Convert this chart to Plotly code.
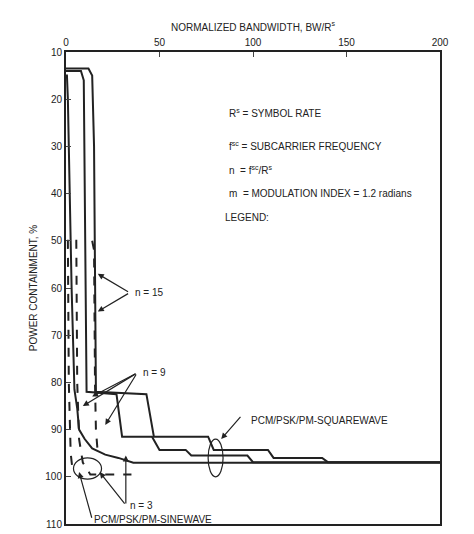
import plotly.graph_objects as go

# square-wave curves (solid)
sq15_x = [0, 12, 14, 15, 16, 43, 47, 76, 79, 108, 111, 137, 140, 200]
sq15_y = [13.5, 13.5, 15, 30, 82, 82.5, 91.5, 91.5, 94.3, 94.3, 96, 96, 96.9, 96.9]
sq9_x = [0, 8, 9.5, 10, 11, 27, 30, 46, 50, 64, 67, 97, 100, 200]
sq9_y = [14, 14, 16, 40, 82, 82.5, 91.5, 91.5, 94.3, 94.3, 95.5, 95.5, 96.9, 96.9]
sq3_x = [0, 0.5, 1, 3, 4.5, 6, 7, 10, 14, 21, 28, 36, 200]
sq3_y = [15, 15, 20, 60, 81.5, 85.5, 90, 92, 94, 95.3, 96, 97, 97]
# sine-wave curves (dashed)
sn3_x = [0.5, 1, 1.5, 2.5, 3.5]
sn3_y = [50, 50, 80, 95, 98.5]
sn9_x = [5, 5.5, 6, 7, 9, 13, 35]
sn9_y = [50, 50, 80, 92, 97, 99.5, 99.5]
sn15_x = [14, 15, 15.5, 16, 17]
sn15_y = [50, 52, 80, 90, 95]

fig = go.Figure()
for xs, ys in [(sq15_x, sq15_y), (sq9_x, sq9_y), (sq3_x, sq3_y)]:
    fig.add_trace(go.Scatter(x=xs, y=ys, mode="lines", line=dict(color="#222", width=2)))
for xs, ys in [(sn3_x, sn3_y), (sn9_x, sn9_y), (sn15_x, sn15_y)]:
    fig.add_trace(go.Scatter(x=xs, y=ys, mode="lines", line=dict(color="#222", width=2, dash="dash")))

f = dict(family="Liberation Sans", size=10, color="#222")
ann = []
def t(x, y, s, **k):
    ann.append(dict(x=x, y=y, text=s, showarrow=False, font=f, xanchor="left", **k))
t(86, 23, "R<sup>s</sup> = SYMBOL RATE")
t(86, 30, "f<sup>sc</sup> = SUBCARRIER FREQUENCY")
t(86, 35, "n  = f<sup>sc</sup>/R<sup>s</sup>")
t(86, 40, "m  = MODULATION INDEX = 1.2 radians")
t(84, 45, "LEGEND:")
t(36, 61, "n = 15")
t(40, 78, "n = 9")
t(33, 106, "n = 3")
t(14, 109, "PCM/PSK/PM-SINEWAVE")
t(98, 88, "PCM/PSK/PM-SQUAREWAVE")
def a(x, y, ax, ay):
    ann.append(dict(x=x, y=y, ax=ax, ay=ay, xref="x", yref="y", axref="x", ayref="y",
                    showarrow=True, arrowhead=2, arrowwidth=1.2, arrowcolor="#222", text=""))
a(17, 57, 34, 61); a(17, 65, 34, 61)
a(14, 83, 38, 78); a(21, 89, 38, 78); a(9, 85, 38, 78)
a(18, 99, 32, 106); a(32, 95.5, 32, 106)
a(7, 99, 14, 109)
a(83, 92, 94, 87)
fig.update_layout(annotations=ann,
    shapes=[dict(type="circle", xref="x", yref="y", x0=4, x1=19, y0=96, y1=100.5, line=dict(color="#222", width=1.2)),
            dict(type="circle", xref="x", yref="y", x0=76, x1=84, y0=92, y1=100, line=dict(color="#222", width=1.2))],
    width=474, height=534, showlegend=False, plot_bgcolor="white", paper_bgcolor="white",
    margin=dict(l=58, r=42, t=44, b=18), font=f,
    xaxis=dict(range=[0, 200], side="top", tickvals=[0, 50, 100, 150, 200], ticks="inside",
               showgrid=False, showline=True, mirror=True, linecolor="#222", linewidth=2,
               title=dict(text="NORMALIZED BANDWIDTH, BW/R<sup>s</sup>", font=f, standoff=4)),
    yaxis=dict(range=[110, 10], tickvals=list(range(10, 111, 10)), ticks="inside",
               showgrid=False, showline=True, mirror=True, linecolor="#222", linewidth=2,
               title=dict(text="POWER CONTAINMENT, %", font=f, standoff=6)))
fig.write_html("out.html")
